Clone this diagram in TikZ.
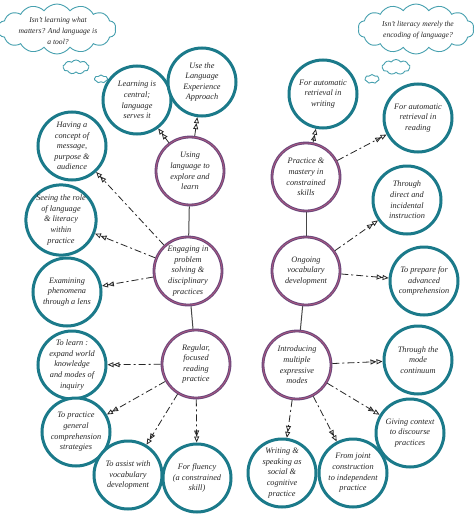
\documentclass[tikz,border=0pt]{standalone}
\usepackage{fontspec}
\setmainfont{Liberation Serif}
\usetikzlibrary{shapes.symbols,arrows.meta}
\definecolor{tealc}{RGB}{27,122,138}
\definecolor{cloudc}{RGB}{70,160,175}
\definecolor{purp}{RGB}{110,72,125}
\definecolor{pinkc}{RGB}{190,95,125}
\definecolor{linec}{RGB}{70,70,70}
\tikzset{
  base/.style={circle,minimum size=68pt,inner sep=0pt,align=center,
    font=\fontsize{8.3}{10.6}\selectfont\itshape,text=black!85},
  leaf/.style={base,draw=tealc,line width=3pt,fill=white},
  hub/.style={base,draw=purp,line width=2.8pt,fill=white,
    postaction={draw=pinkc,line width=0.5pt}},
  cloudbox/.style={cloud,cloud puffs=14,cloud puff arc=110,cloud ignores aspect,draw=cloudc,line width=0.9pt,fill=white,inner sep=0pt},
  cloudtext/.style={align=center,font=\fontsize{7.6}{10.8}\selectfont\itshape,text=black!85,inner sep=0pt},
  link/.style={draw=linec,line width=1pt},
  dasharrow/.style={draw=black!85,line width=0.8pt,dash pattern=on 7pt off 3pt on 2pt off 3pt,
    -{Triangle[open,length=6pt,width=5pt]Triangle[open,length=6pt,width=5pt]}}
}
\begin{document}
\begin{tikzpicture}[x=1pt,y=-1pt]
\useasboundingbox (0,0) rectangle (474,514);
\fill[white] (0,0) rectangle (474,514);

% clouds
\node[cloudbox,minimum width=118pt,minimum height=50pt] (cl1) at (57,29) {};
\node[cloudtext] (cl1t) at (58,31) {Isn't learning what\\matters? And language is\\a tool?};
\node[cloudbox,cloud puffs=9,minimum width=26pt,minimum height=14pt] (cl1a) at (76,67) {};
\node[cloudbox,cloud puffs=7,minimum width=13pt,minimum height=8pt] (cl1b) at (101,79) {};
\node[cloudbox,minimum width=116pt,minimum height=50pt] (cl2) at (416,29) {};
\node[cloudtext] (cl2t) at (418,30) {Isn't literacy merely the\\encoding of language?};
\node[cloudbox,cloud puffs=9,minimum width=28pt,minimum height=15pt] (cl2a) at (396,67) {};
\node[cloudbox,cloud puffs=7,minimum width=14pt,minimum height=9pt] (cl2b) at (372,79) {};

% hubs
\node[hub] (using) at (190,171) {Using\\language to\\explore and\\learn};
\node[hub] (engag) at (188,271) {Engaging in\\problem\\solving \&\\disciplinary\\practices};
\node[hub] (regul) at (196,364) {Regular,\\focused\\reading\\practice};
\node[hub] (pract) at (306,177) {Practice \&\\mastery in\\constrained\\skills};
\node[hub] (ongo) at (306,271) {Ongoing\\vocabulary\\development};
\node[hub] (intro) at (297,365) {Introducing\\multiple\\expressive\\modes};

% leaves left
\node[leaf] (lcen) at (137,100) {Learning is\\central;\\language\\serves it};
\node[leaf] (lea) at (202,82) {Use the\\Language\\Experience\\Approach};
\node[leaf] (conc) at (72,146) {Having a\\concept of\\message,\\purpose \&\\audience};
\node[leaf] (seei) at (61,220) {Seeing the role\\of language\\\& literacy\\within\\practice};
\node[leaf] (exam) at (67,292) {Examining\\phenomena\\through a lens};
\node[leaf] (tolearn) at (72,365) {To learn :\\expand world\\knowledge\\and modes of\\inquiry};
\node[leaf] (topract) at (76,432) {To practice\\general\\comprehension\\strategies};
\node[leaf] (assist) at (128,475) {To assist with\\vocabulary\\development};
\node[leaf] (flue) at (197,478) {For fluency\\(a constrained\\skill)};

% leaves right
\node[leaf] (writ) at (323,94) {For automatic\\retrieval in\\writing};
\node[leaf] (read) at (418,118) {For automatic\\retrieval in\\reading};
\node[leaf] (direct) at (407,200) {Through\\direct and\\incidental\\instruction};
\node[leaf] (prep) at (424,281) {To prepare for\\advanced\\comprehension};
\node[leaf] (mode) at (418,360) {Through the\\mode\\continuum};
\node[leaf] (givi) at (410,433) {Giving context\\to discourse\\practices};
\node[leaf] (wrsp) at (282,473) {Writing \&\\speaking as\\social \&\\cognitive\\practice};
\node[leaf] (joint) at (353,473) {From joint\\construction\\to independent\\practice};

% solid links
\draw[link] (using) -- (engag);
\draw[link] (engag) -- (regul);
\draw[link] (pract) -- (ongo);
\draw[link] (ongo) -- (intro);

% dashed arrows
\draw[dasharrow] (using) -- (lcen);
\draw[dasharrow] (using) -- (lea);
\draw[dasharrow] (engag) -- (conc);
\draw[dasharrow] (engag) -- (seei);
\draw[dasharrow] (engag) -- (exam);
\draw[dasharrow] (regul) -- (tolearn);
\draw[dasharrow] (regul) -- (topract);
\draw[dasharrow] (regul) -- (assist);
\draw[dasharrow] (regul) -- (flue);
\draw[dasharrow] (pract) -- (writ);
\draw[dasharrow] (pract) -- (read);
\draw[dasharrow] (ongo) -- (direct);
\draw[dasharrow] (ongo) -- (prep);
\draw[dasharrow] (intro) -- (mode);
\draw[dasharrow] (intro) -- (givi);
\draw[dasharrow] (intro) -- (wrsp);
\draw[dasharrow] (intro) -- (joint);
\end{tikzpicture}
\end{document}
